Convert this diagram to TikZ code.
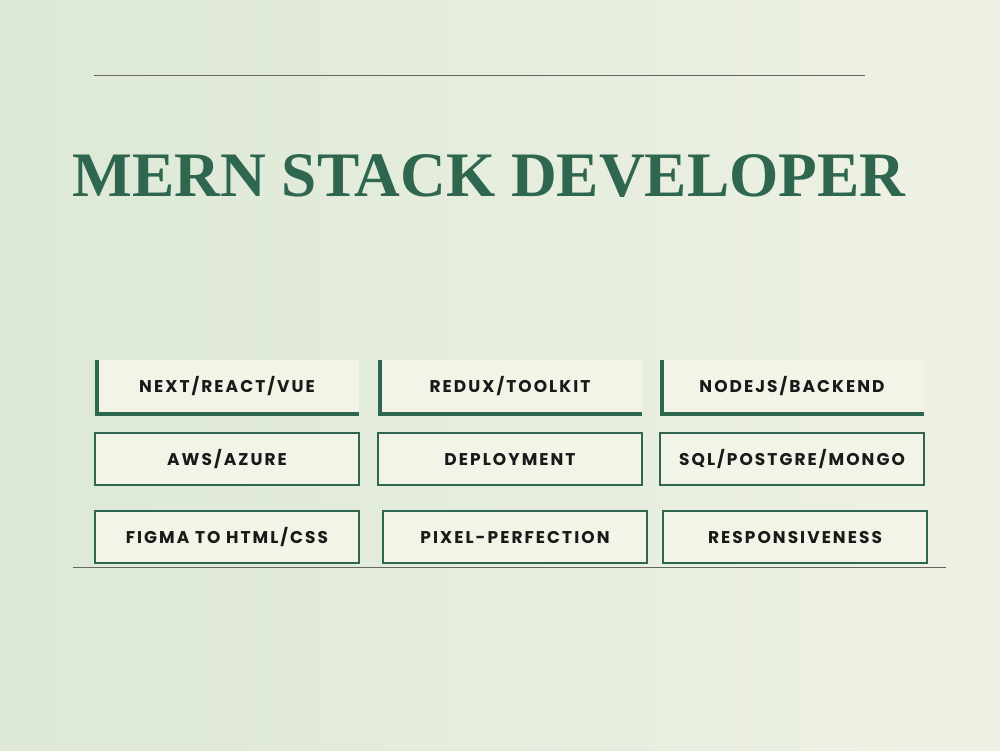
\documentclass[tikz,border=0pt]{standalone}
\usepackage{fontspec}
\setmainfont{Liberation Serif}
\newfontfamily\boxfont[LetterSpace=12]{Poppins Bold}
\usetikzlibrary{positioning}
\definecolor{dg}{HTML}{2E6650}
\definecolor{bgA}{HTML}{DDE8D6}
\definecolor{bgB}{HTML}{EEF2E4}
\definecolor{boxfill}{HTML}{F2F4E8}
\tikzset{
  skill/.style={fill=boxfill, draw=dg, line width=2.2pt, minimum width=264pt, minimum height=52pt, inner sep=0pt, text height=12pt, text depth=0pt, font=\boxfont\fontsize{17}{20}\selectfont, text=black!90},
  topskill/.style={fill=boxfill, draw=none, minimum width=264pt, minimum height=52pt, inner sep=0pt, text height=12pt, text depth=0pt, font=\boxfont\fontsize{17}{20}\selectfont, text=black!90},
  rule/.style={draw=black!60, line width=0.8pt}
}
\begin{document}
\begin{tikzpicture}[x=1pt,y=-1pt]
\shade[left color=bgA, right color=bgB] (0,0) rectangle (1000,751);
\useasboundingbox (0,0) rectangle (1000,751);
\coordinate (l1a) at (94,75); \coordinate (l1b) at (865,75);
\draw[rule] (l1a) -- (l1b);
\node[text=dg, anchor=base, inner sep=0] (title) at (489,197) {\resizebox{833pt}{!}{\bfseries\fontsize{76}{80}\selectfont MERN STACK DEVELOPER}};
% row 1
\foreach \n/\x/\t in {a/227/{NEXT/REACT/VUE}, b/510/{REDUX/TOOLKIT}, c/792/{NODEJS/BACKEND}}{
  \node[topskill] (\n) at (\x,386) {\t};
  \draw[dg, line width=4pt] (\n.north west) ++(2,0) -- ([xshift=2pt,yshift=-2pt]\n.south west) -- ([yshift=-2pt]\n.south east);
}
\foreach \n/\x/\t in {d/227/{AWS/AZURE}, e/510/{DEPLOYMENT}, f/792/{SQL/POSTGRE/MONGO}}{
  \node[skill] (\n) at (\x,459) {\t};
}
\foreach \n/\x/\t in {g/227/{FIGMA TO HTML/CSS}, h/515/{PIXEL-PERFECTION}, i/795/{RESPONSIVENESS}}{
  \node[skill] (\n) at (\x,537) {\t};
}
\coordinate (l2a) at (73,567); \coordinate (l2b) at (946,567);
\draw[rule] (l2a) -- (l2b);
\end{tikzpicture}
\end{document}
